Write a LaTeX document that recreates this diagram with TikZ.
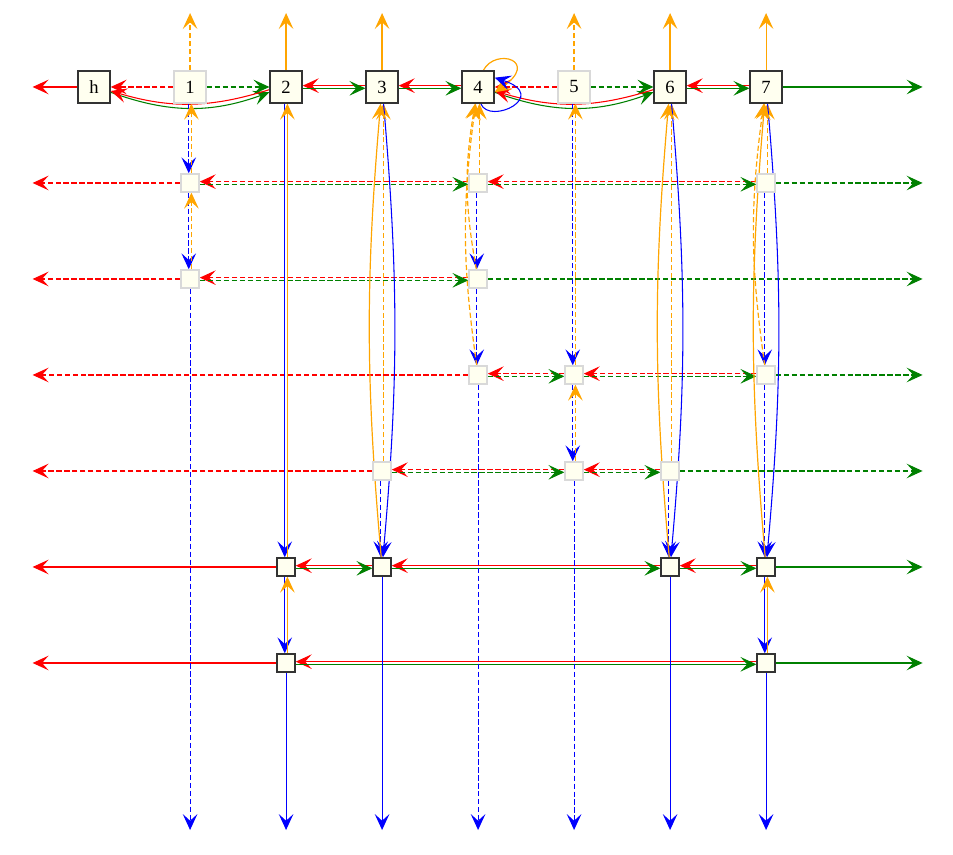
\documentclass[tikz,border=0pt]{standalone}
\usepackage{fontspec}
\setmainfont{Liberation Serif}
\usetikzlibrary{arrows.meta}
\definecolor{ivory}{RGB}{255,255,240}
\definecolor{uporange}{RGB}{255,165,0}
\pgfdeclarelayer{bg}
\pgfsetlayers{bg,main}

\begin{document}
\begin{tikzpicture}[
x = 1in, y = 1in,
>={Stealth[length=12pt, width=11pt, inset=5pt]},
hdr/.style={rectangle, draw = black!80, line width = 1.1pt, fill = ivory,
minimum size = 24pt, inner sep = 0pt, font = \fontsize{14}{16}\selectfont},
hdroff/.style={hdr, draw = black!15},
cell/.style={rectangle, draw = black!80, line width = 1.1pt, fill = ivory,
minimum size = 13.5pt, inner sep = 0pt},
celloff/.style={cell, draw = black!15},
rlink/.style={->, draw = red, line width = 0.8pt},
glink/.style={->, draw = green!50!black, line width = 0.8pt},
blink/.style={->, draw = blue, line width = 0.8pt},
olink/.style={->, draw = uporange, line width = 0.9pt},
gone/.style={dash pattern = on 4pt off 2pt}]

\useasboundingbox (-0.98,-7.99) rectangle (8.947,0.906);

% column headers
\node[hdr] (h) at (0,0) {h};
\node[hdroff] (H1) at (1,0) {1};
\node[hdr] (H2) at (2,0) {2};
\node[hdr] (H3) at (3,0) {3};
\node[hdr] (H4) at (4,0) {4};
\node[hdroff] (H5) at (5,0) {5};
\node[hdr] (H6) at (6,0) {6};
\node[hdr] (H7) at (7,0) {7};

% rows
\node[celloff] (A1) at (1,-1) {};
\node[celloff] (A4) at (4,-1) {};
\node[celloff] (A7) at (7,-1) {};
\node[celloff] (B1) at (1,-2) {};
\node[celloff] (B4) at (4,-2) {};
\node[celloff] (C4) at (4,-3) {};
\node[celloff] (C5) at (5,-3) {};
\node[celloff] (C7) at (7,-3) {};
\node[celloff] (D3) at (3,-4) {};
\node[celloff] (D5) at (5,-4) {};
\node[celloff] (D6) at (6,-4) {};
\node[cell] (E2) at (2,-5) {};
\node[cell] (E3) at (3,-5) {};
\node[cell] (E6) at (6,-5) {};
\node[cell] (E7) at (7,-5) {};
\node[cell] (F2) at (2,-6) {};
\node[cell] (F7) at (7,-6) {};

% free ends
\foreach \r in {0,...,6} {
  \coordinate (lft\r) at (-0.64,-\r);
  \coordinate (rgt\r) at (8.63,-\r);
}
\foreach \c in {1,...,7} {
  \coordinate (top\c) at (\c,0.77);
  \coordinate (bot\c) at (\c,-7.74);
}

\begin{pgfonlayer}{bg}
% header list
\draw[rlink] (h) -- (lft0);
\draw[rlink, gone] (H1) -- (h);
\draw[glink, gone] (H1) -- (H2);
\draw[glink] ([yshift=-4pt]h.east) to[bend right=20] ([yshift=-4pt]H2.west);
\draw[rlink] ([yshift=-2pt]H2.west) to[bend left=17] ([yshift=-3pt]h.east);
\draw[rlink, gone] (H5) -- (H4);
\draw[glink, gone] (H5) -- (H6);
\draw[glink] ([yshift=-4pt]H4.east) to[bend right=20] ([yshift=-4pt]H6.west);
\draw[rlink] ([yshift=-2pt]H6.west) to[bend left=17] ([yshift=-3pt]H4.east);
\draw[glink] (H7) -- (rgt0);

% left and right links
\foreach \a/\b/\s in {H2/H3/solid, H3/H4/solid, H6/H7/solid,
  A1/A4/gone, A4/A7/gone, B1/B4/gone, C4/C5/gone, C5/C7/gone,
  D3/D5/gone, D5/D6/gone, E2/E3/solid, E3/E6/solid, E6/E7/solid, F2/F7/solid} {
  \draw[rlink, \s] ([yshift=1pt]\b.west) -- ([yshift=1pt]\a.east);
  \draw[glink, \s] ([yshift=-1pt]\a.east) -- ([yshift=-1pt]\b.west);
}
\foreach \a/\r/\s in {A1/1/gone, B1/2/gone, C4/3/gone, D3/4/gone, E2/5/solid, F2/6/solid}
  \draw[rlink, \s] (\a) -- (lft\r);
\foreach \a/\r/\s in {A7/1/gone, B4/2/gone, C7/3/gone, D6/4/gone, E7/5/solid, F7/6/solid}
  \draw[glink, \s] (\a) -- (rgt\r);

% up and down links
\foreach \a/\b/\s in {H1/A1/gone, A1/B1/gone, H2/E2/solid, E2/F2/solid,
  H5/C5/gone, C5/D5/gone, E7/F7/solid} {
  \draw[blink, \s] ([xshift=-1pt]\a.south) -- ([xshift=-1pt]\b.north);
  \draw[olink, \s] ([xshift=1pt]\b.north) -- ([xshift=1pt]\a.south);
}
\foreach \a/\b in {A4/B4, B4/C4, D3/E3, D6/E6, A7/C7, C7/E7}
  \draw[blink, gone] ([xshift=-1pt]\a.south) -- ([xshift=-1pt]\b.north);
\foreach \a/\b in {A4/H4, D3/H3, D6/H6, A7/H7}
  \draw[olink, gone] ([xshift=1pt]\a.north) -- ([xshift=1pt]\b.south);
\draw[olink, gone] (B4) to[bend left=10] (H4);
\draw[olink, gone] (C4) to[bend left=8] (H4);
\draw[olink, gone] (C7) to[bend left=8] (H7);
\foreach \a/\b in {H3/E3, H6/E6, H7/E7} {
  \draw[blink] (\a) to[bend left=5] (\b);
  \draw[olink] (\b) to[bend left=5] (\a);
}
\draw[olink] ([xshift=4pt]H4.north) .. controls +(0.125,0.24) and +(0.48,0.33) .. ([yshift=-4pt]H4.east);
\draw[blink] ([xshift=2pt]H4.south) .. controls +(0.094,-0.23) and +(0.58,-0.19) .. ([yshift=7pt]H4.east);
\foreach \a/\c/\s in {H1/1/gone, H2/2/solid, H3/3/solid, H5/5/gone, H6/6/solid, H7/7/solid}
  \draw[olink, \s] (\a) -- (top\c);
\foreach \a/\c/\s in {B1/1/gone, F2/2/solid, E3/3/solid, C4/4/gone, D5/5/gone, E6/6/solid, F7/7/solid}
  \draw[blink, \s] (\a) -- (bot\c);
\end{pgfonlayer}

\end{tikzpicture}
\end{document}
